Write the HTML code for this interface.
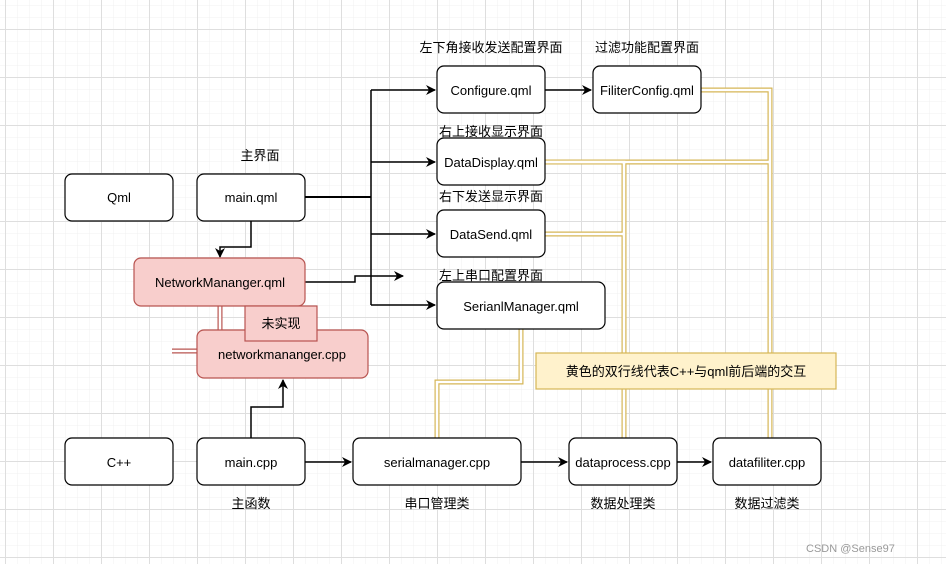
<!DOCTYPE html>
<html><head><meta charset="utf-8"><style>
body{margin:0;background:#fff}
svg{display:block}
text{font-family:"Liberation Sans","Noto Sans CJK SC",sans-serif;font-size:13px;fill:#000}
</style></head><body>
<svg width="946" height="564" viewBox="0 0 946 564" xmlns="http://www.w3.org/2000/svg">
<defs>
<pattern id="mi" width="12" height="12" patternUnits="userSpaceOnUse" x="5" y="5"><path d="M0 0H12M0 0V12" stroke="#f0f0f0" stroke-width="1" fill="none"/></pattern>
<pattern id="ma" width="48" height="48" patternUnits="userSpaceOnUse" x="5" y="29"><path d="M0 0.5H48M0.5 0V48" stroke="#dedede" stroke-width="1" fill="none"/></pattern>
<marker id="ar" markerWidth="10" markerHeight="10" refX="9" refY="5" orient="auto" markerUnits="userSpaceOnUse"><path d="M0 0L10 5L0 10L3 5Z" fill="#000"/></marker>
</defs>
<rect width="946" height="564" fill="#fff"/>
<rect width="946" height="564" fill="url(#mi)"/>
<rect width="946" height="564" fill="url(#ma)"/>

<!-- yellow double lines -->
<g fill="none" stroke-linejoin="miter">
<g stroke="#d6b656" stroke-width="5">
<path d="M701 90H770V438"/>
<path d="M545 162H770"/>
<path d="M545 162H624V438"/>
<path d="M545 234H624"/>
<path d="M521 329V382H437V438"/>
</g>
<g stroke="#fff" stroke-width="2.6">
<path d="M701 90H770V438"/>
<path d="M545 162H770"/>
<path d="M545 162H624V438"/>
<path d="M545 234H624"/>
<path d="M521 329V382H437V438"/>
</g>
<!-- pink double -->
<path d="M220 306V351H172V351H197" stroke="#b85450" stroke-width="5"/>
<path d="M220 306V351H172V351H197" stroke="#fff" stroke-width="2.6"/>
</g>

<!-- black connectors -->
<g fill="none" stroke="#000" stroke-width="1.5">
<path d="M305 197H371" stroke-width="2"/>
<path d="M371 90V305"/>
<path d="M371 90H435" marker-end="url(#ar)"/>
<path d="M371 162H435" marker-end="url(#ar)"/>
<path d="M371 234H435" marker-end="url(#ar)"/>
<path d="M371 305H435" marker-end="url(#ar)"/>
<path d="M545 90H591" marker-end="url(#ar)"/>
<path d="M305 282H355V276H403" marker-end="url(#ar)"/>
<path d="M251 221V247H220V257" marker-end="url(#ar)"/>
<path d="M251 438V407H283V380" marker-end="url(#ar)"/>
<path d="M305 462H351" marker-end="url(#ar)"/>
<path d="M521 462H567" marker-end="url(#ar)"/>
<path d="M677 462H711" marker-end="url(#ar)"/>
</g>

<!-- boxes -->
<g stroke="#000" stroke-width="1.2" fill="#fff">
<rect x="65" y="174" width="108" height="47" rx="7"/>
<rect x="197" y="174" width="108" height="47" rx="7"/>
<rect x="437" y="66" width="108" height="47" rx="7"/>
<rect x="593" y="66" width="108" height="47" rx="7"/>
<rect x="437" y="138" width="108" height="47" rx="7"/>
<rect x="437" y="210" width="108" height="47" rx="7"/>
<rect x="437" y="282" width="168" height="47" rx="7"/>
<rect x="65" y="438" width="108" height="47" rx="7"/>
<rect x="197" y="438" width="108" height="47" rx="7"/>
<rect x="353" y="438" width="168" height="47" rx="7"/>
<rect x="569" y="438" width="108" height="47" rx="7"/>
<rect x="713" y="438" width="108" height="47" rx="7"/>
</g>
<g stroke="#b85450" stroke-width="1.2" fill="#f8cecc">
<rect x="134" y="258" width="171" height="48" rx="7"/>
<rect x="197" y="330" width="171" height="48" rx="7"/>
<rect x="245" y="306" width="72" height="35"/>
</g>
<rect x="536" y="353" width="300" height="36" fill="#fff2cc" stroke="#d6b656" stroke-width="1.2"/>

<g text-anchor="middle">
<text x="119" y="202">Qml</text>
<text x="251" y="202">main.qml</text>
<text x="491" y="95">Configure.qml</text>
<text x="647" y="95">FiliterConfig.qml</text>
<text x="491" y="167">DataDisplay.qml</text>
<text x="491" y="239">DataSend.qml</text>
<text x="521" y="311">SerianlManager.qml</text>
<text x="220" y="287">NetworkMananger.qml</text>
<text x="282" y="359">networkmananger.cpp</text>
<text x="281" y="328">未实现</text>
<text x="686" y="376">黄色的双行线代表C++与qml前后端的交互</text>
<text x="119" y="467">C++</text>
<text x="251" y="467">main.cpp</text>
<text x="437" y="467">serialmanager.cpp</text>
<text x="623" y="467">dataprocess.cpp</text>
<text x="767" y="467">datafiliter.cpp</text>
<text x="260" y="160">主界面</text>
<text x="491" y="52">左下角接收发送配置界面</text>
<text x="647" y="52">过滤功能配置界面</text>
<text x="491" y="136">右上接收显示界面</text>
<text x="491" y="201">右下发送显示界面</text>
<text x="491" y="280">左上串口配置界面</text>
<text x="251" y="508">主函数</text>
<text x="437" y="508">串口管理类</text>
<text x="623" y="508">数据处理类</text>
<text x="767" y="508">数据过滤类</text>
</g>
<text x="806" y="552" style="font-size:11px;fill:#999">CSDN @Sense97</text>
</svg>
</body></html>
